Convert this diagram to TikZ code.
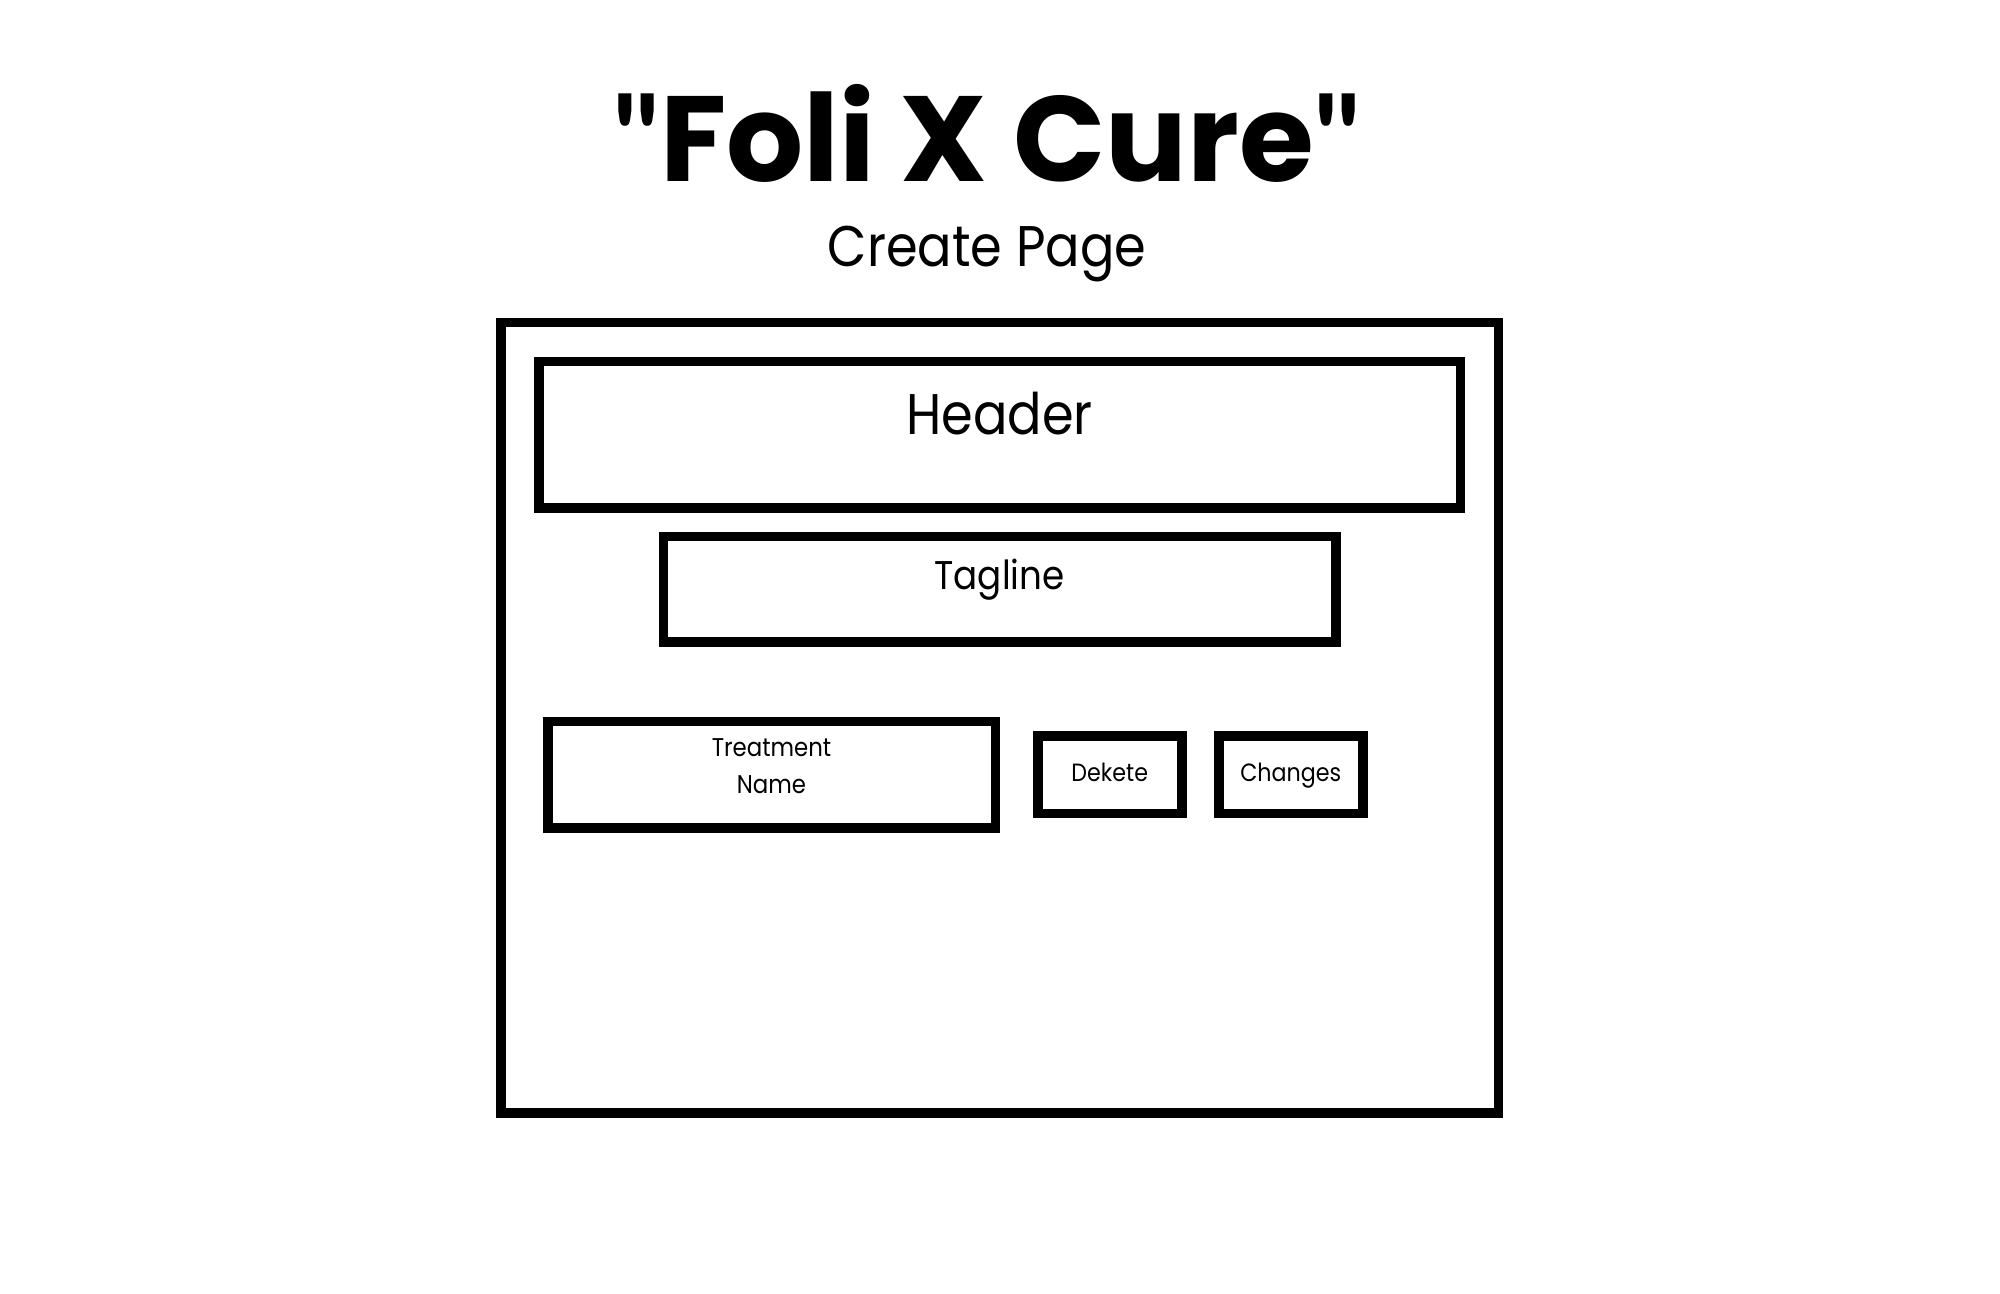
\documentclass[tikz,border=0pt]{standalone}
\usepackage{fontspec}
\setmainfont{Poppins}[FakeStretch=0.89]
\newfontfamily\titlefont{Poppins}
\newfontfamily\quotefont{Lato}
\usetikzlibrary{positioning}

\newcommand{\qmark}{{\quotefont\bfseries"}}

\begin{document}
\begin{tikzpicture}[every node/.style={node distance=0.2cm, rectangle, inner sep=0pt},
    box/.style={draw, line width=0.095cm, align=center},
    btn/.style={box, minimum width=1.44cm, minimum height=0.775cm, text height=0.18cm, text depth=0.05cm, font=\fontsize{7.1}{9}\selectfont}]
    \useasboundingbox (0,0) rectangle (20,12.94);
	\node[anchor=base, font=\titlefont\fontsize{34.5}{38}\selectfont\bfseries](title) at (9.87,11.123) {\qmark Foli X Cure\qmark};
    \node[below=0.85cm of title.base, anchor=base, font=\fontsize{16.3}{18}\selectfont](subtitle) {Create Page};
%     % frame
    \node[box, minimum width=9.975cm, minimum height=7.905cm](frame) at (9.995,5.76) {};
    \node[box, below=0.39cm of frame.north, minimum width=9.215cm, minimum height=1.465cm, text height=0.3cm, text depth=0.3cm, font=\fontsize{16.3}{18}\selectfont](header) {Header};
    \node[box, below=0.19cm of header, minimum width=6.725cm, minimum height=1.055cm, text height=0.2cm, text depth=0.2cm, font=\fontsize{11.4}{13}\selectfont](tagline) {Tagline};
%     % row
    \coordinate (treatcorner) at (frame.west |- tagline.south);
    \node[box, below right=0.70cm and 0.47cm of treatcorner, minimum width=4.475cm, minimum height=1.065cm, text height=0.58cm, text depth=0.2cm, font=\fontsize{7.3}{10.8}\selectfont](treat) {Treatment\\Name};
    \node[btn, right=0.33cm of treat](dekete) {Dekete};
    \node[btn, right=0.275cm of dekete](changes) {Changes};
	\end{tikzpicture}
\end{document}
